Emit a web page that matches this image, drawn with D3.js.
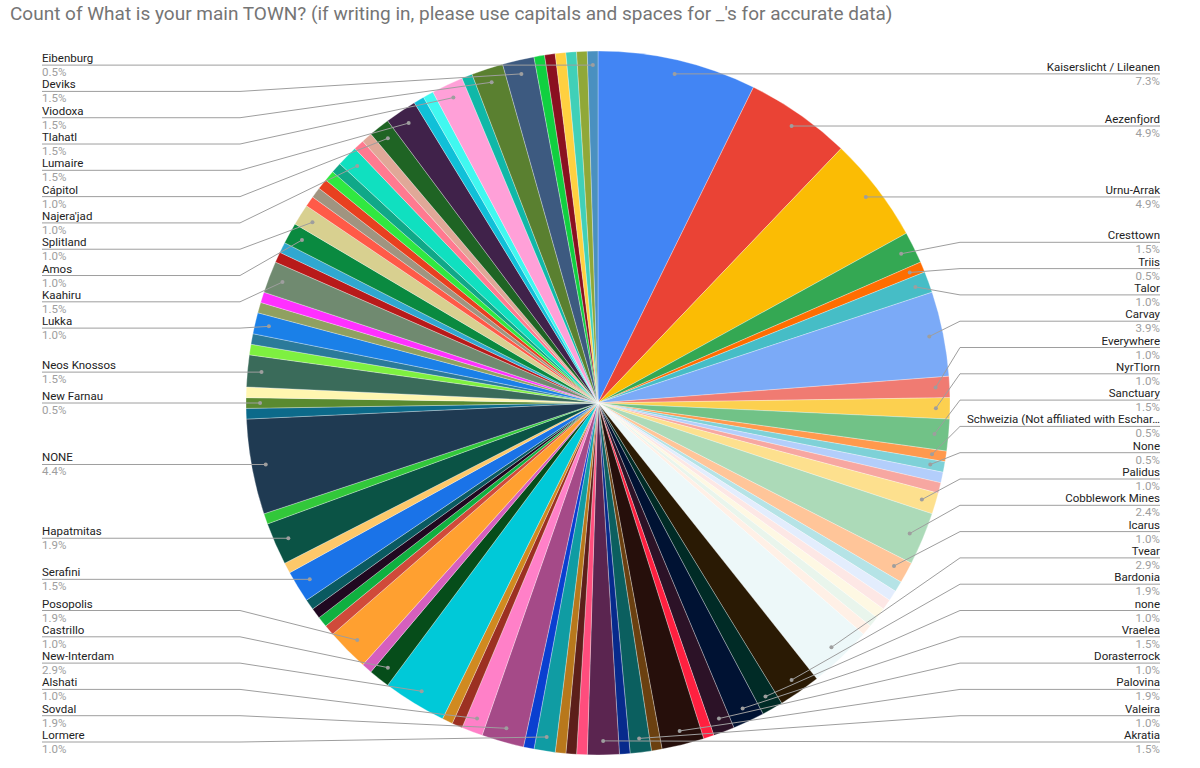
<!DOCTYPE html>
<html>
<head>
<meta charset="utf-8">
<script src="https://cdn.jsdelivr.net/npm/d3@7"></script>
<style>
  body { margin: 0; background: #fff; font-family: Roboto, Arial, sans-serif; }
</style>
</head>
<body>
<svg id="chart" width="1200" height="768"></svg>
<script>
// slices clockwise from 12 o'clock; "" = slice without a label
const names = [
  "Kaiserslicht / Lileanen", "Aezenfjord", "Urnu-Arrak", "Cresttown", "Triis", "Talor", "Carvay",
  "Everywhere", "NyrTlorn", "Sanctuary", "Schweizia (Not affiliated with Eschar…", "None", "", "",
  "Palidus", "Cobblework Mines", "Icarus", "", "", "", "", "", "", "Tvear", "Bardonia", "none",
  "Vraelea", "Dorasterrock", "", "Palovina", "", "Valeira", "", "Akratia",
  "", "", "", "Lormere", "", "Sovdal", "Alshati", "", "", "New-Interdam", "Castrillo", "",
  "Posopolis", "", "", "", "", "Serafini", "", "Hapatmitas", "", "NONE", "", "New Farnau", "",
  "Neos Knossos", "", "", "Lukka", "", "", "Kaahiru", "", "", "Amos", "Splitland", "", "", "", "",
  "", "Najera'jad", "", "", "Cápitol", "Lumaire", "", "", "Tlahatl", "", "Viodoxa", "Deviks",
  "", "", "", "", "", "Eibenburg"
];
const values = [
  15, 10, 10, 3, 1, 2, 8,
  2, 2, 3, 1, 1, 1, 1,
  2, 5, 2, 1, 1, 1, 1, 1, 1, 6, 4, 2,
  3, 2, 1, 4, 1, 2, 1, 3,
  1, 1, 1, 2, 1, 4, 2, 1, 1, 6, 2, 1,
  4, 1, 1, 1, 1, 3, 1, 4, 1, 9, 1, 1, 1,
  3, 1, 1, 2, 1, 1, 3, 1, 1, 2, 2, 1, 1, 1, 1,
  1, 2, 1, 1, 2, 3, 1, 1, 3, 1, 3, 3,
  1, 1, 1, 1, 1, 1
];
const colors = [
  "#4285f4", "#ea4335", "#fbbc04", "#34a853", "#ff6d01", "#46bdc6", "#7baaf7",
  "#f07b72", "#fcd04f", "#71c287", "#ff994d", "#7ed1d7", "#b3cefb", "#f7a7a1",
  "#fde08e", "#acdab8", "#ffc599", "#b5e3e6", "#e3edfd", "#fde7e5", "#fef8e3", "#e9f5ec", "#fff0e6", "#edf8f9", "#2a1a04", "#002b26",
  "#001233", "#2c1227", "#ff2040", "#260f0b", "#6b4010", "#0b5f5f", "#072a8c", "#5b2550",
  "#ff4d7d", "#5c1f1a", "#b8781c", "#109ca3", "#0a3fd0", "#a54a88", "#ff80c8", "#9c3022", "#d08a20", "#00c9d8", "#064d1a", "#d65fbe",
  "#ffa030", "#d04a3a", "#10b040", "#200820", "#0a5a60", "#1a73e8", "#fdc86a", "#0b5345", "#32c83a", "#1f3a52", "#0c6a8a", "#5a8a30", "#fff6b0",
  "#3a6b5a", "#7ef040", "#2b7a9a", "#1a80e8", "#90a060", "#ff30ff", "#708a70", "#b81a1a", "#30a8d0", "#0a8a40", "#d8d090", "#ff5a48", "#a09480", "#e84020", "#30e840",
  "#10a888", "#10e0c0", "#ff7a90", "#e0a898", "#1f6424", "#40224a", "#10c0d8", "#40f8f0", "#ffa0d8", "#10b8a8", "#5a8030", "#3d5a80",
  "#10d040", "#8a1020", "#ffd040", "#40d0b8", "#90a838", "#4a90c0"
];
const title = "Count of What is your main TOWN? (if writing in, please use capitals and spaces for _'s for accurate data)";

const cx = 598, cy = 403, r = 352;
const total = d3.sum(values);
const pct = d3.format(".1%");

const svg = d3.select("#chart");

svg.append("text")
  .attr("x", 10).attr("y", 20)
  .attr("font-size", 19).attr("fill", "#757575")
  .text(title);

const data = names.map((n, i) => ({ name: n, value: values[i], color: colors[i] }));
const arcs = d3.pie().sort(null).value(d => d.value)(data);

const g = svg.append("g").attr("transform", `translate(${cx},${cy})`);
g.selectAll("path")
  .data(arcs)
  .enter()
  .append("path")
  .attr("d", d3.arc().innerRadius(0).outerRadius(r))
  .attr("fill", d => d.data.color)
  .attr("stroke", "#fff")
  .attr("stroke-width", 0.3);

// label anchors
const labels = arcs.filter(d => d.data.name !== "").map(d => {
  const a = (d.startAngle + d.endAngle) / 2;
  const dx = cx + Math.sin(a) * r * 0.96;
  const dy = cy - Math.cos(a) * r * 0.96;
  return { name: d.data.name, value: d.data.value, a, dx, dy, right: a < Math.PI };
});

function layout(list) {
  const gap = 26.3, top = 63, bottom = 742;
  list.sort((a, b) => a.dy - b.dy);
  list.forEach((l, i) => {
    l.y = Math.max(l.dy, top);
    if (i > 0) l.y = Math.max(l.y, list[i - 1].y + gap);
  });
  for (let i = list.length - 1; i >= 0; i--) {
    const lim = i === list.length - 1 ? bottom : list[i + 1].y - gap;
    l = list[i];
    l.y = Math.min(l.y, lim);
  }
}
const rightL = labels.filter(l => l.right);
const leftL = labels.filter(l => !l.right);
layout(rightL);
layout(leftL);

const lab = svg.append("g");
function drawSide(list, right) {
  const edge = right ? 1160 : 42;
  list.forEach(l => {
    const elbow = right ? Math.max(l.dx, 960) : Math.min(l.dx, 240);
    lab.append("polyline")
      .attr("points", `${edge},${l.y} ${elbow},${l.y} ${l.dx},${l.dy}`)
      .attr("fill", "none").attr("stroke", "#9e9e9e").attr("stroke-width", 1);
    lab.append("circle")
      .attr("cx", l.dx).attr("cy", l.dy).attr("r", 2).attr("fill", "#9e9e9e");
    lab.append("text")
      .attr("x", edge).attr("y", l.y - 3)
      .attr("text-anchor", right ? "end" : "start")
      .attr("font-size", 11.5).attr("fill", "#222")
      .text(l.name);
    lab.append("text")
      .attr("x", edge).attr("y", l.y + 11)
      .attr("text-anchor", right ? "end" : "start")
      .attr("font-size", 11.5).attr("fill", "#9e9e9e")
      .text(pct(l.value / total));
  });
}
drawSide(rightL, true);
drawSide(leftL, false);
</script>
</body>
</html>
